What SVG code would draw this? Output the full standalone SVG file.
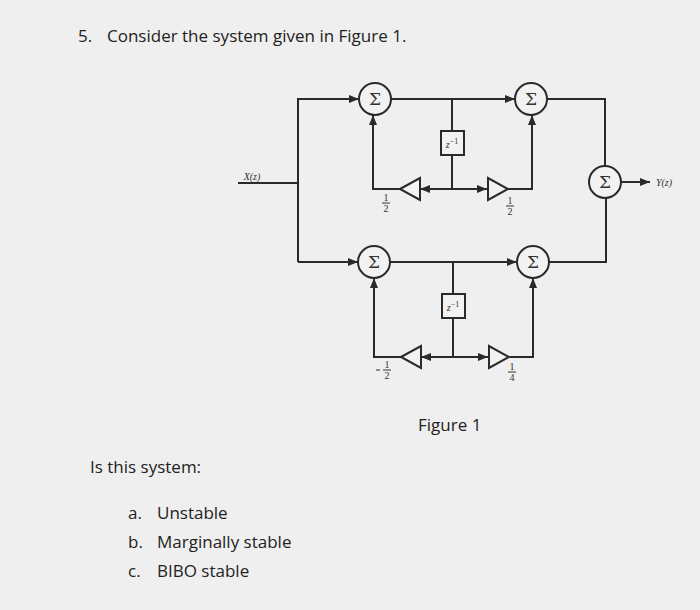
<svg xmlns="http://www.w3.org/2000/svg" width="700" height="610" viewBox="0 0 700 610">
<style>
.t{font-family:"Open Sans","Liberation Sans",sans-serif;font-size:17px;fill:#222}
.s{font-family:"DejaVu Serif",serif;font-size:17px;fill:#333;text-anchor:middle}
.f{font-family:"Liberation Serif",serif;font-size:10px;fill:#333;text-anchor:middle}
.l{fill:none;stroke:#2a2a2a;stroke-width:2}
.n{fill:#f2f2f2;stroke:#2a2a2a;stroke-width:2}
</style>
<defs><marker id="a" viewBox="0 0 10 10" refX="10" refY="5" markerWidth="5" markerHeight="5" orient="auto"><path d="M0,1L10,5L0,9z" fill="#2a2a2a"/></marker></defs>
<rect width="700" height="610" fill="#efefef"/>
<text class="t" x="78" y="42">5.</text><text class="t" x="107" y="42">Consider the system given in Figure 1.</text>
<g id="connectors">
<path class="l" d="M238,183H298"/>
<path class="l" d="M298,262V99H359" marker-end="url(#a)"/>
<path class="l" d="M298,262H358" marker-end="url(#a)"/>
<path class="l" d="M391,99H515" marker-end="url(#a)"/>
<path class="l" d="M452,99V131M452,155V189"/>
<path class="l" d="M452,189H420" marker-end="url(#a)"/>
<path class="l" d="M452,189H487" marker-end="url(#a)"/>
<path class="l" d="M400,189H373V115" marker-end="url(#a)"/>
<path class="l" d="M508,189H532V115" marker-end="url(#a)"/>
<path class="l" d="M547,99H605V166"/>
<path class="l" d="M621,182H650" marker-end="url(#a)"/>
<path class="l" d="M390,262H517" marker-end="url(#a)"/>
<path class="l" d="M453,262V294M453,318V357"/>
<path class="l" d="M453,357H421" marker-end="url(#a)"/>
<path class="l" d="M453,357H488" marker-end="url(#a)"/>
<path class="l" d="M401,357H374V278" marker-end="url(#a)"/>
<path class="l" d="M510,357H533V278" marker-end="url(#a)"/>
<path class="l" d="M549,262H606V198"/>
</g>
<text class="f" x="252" y="180" font-style="italic">X(z)</text>
<text class="f" x="664" y="186" font-style="italic">Y(z)</text>
<g id="sum1"><circle class="n" cx="375" cy="99" r="16"/><text class="s" x="375" y="105">Σ</text></g>
<g id="sum2"><circle class="n" cx="531" cy="99" r="16"/><text class="s" x="531" y="105">Σ</text></g>
<g id="sum3"><circle class="n" cx="374" cy="262" r="16"/><text class="s" x="374" y="268">Σ</text></g>
<g id="sum4"><circle class="n" cx="533" cy="262" r="16"/><text class="s" x="533" y="268">Σ</text></g>
<g id="sumOut"><circle class="n" cx="605" cy="182" r="16"/><text class="s" x="605" y="188">Σ</text></g>
<g id="delay1"><rect class="n" x="441" y="131" width="23" height="24"/><text class="f" x="452" y="148"><tspan font-style="italic">z</tspan><tspan font-size="8" dy="-4">−1</tspan></text></g>
<g id="delay2"><rect class="n" x="442" y="294" width="23" height="24"/><text class="f" x="453" y="311"><tspan font-style="italic">z</tspan><tspan font-size="8" dy="-4">−1</tspan></text></g>
<g id="gain1"><path class="n" d="M400,189L420,178V200z"/><text class="f" x="386" y="201">1</text><path d="M382,203h8" stroke="#333"/><text class="f" x="386" y="212">2</text></g>
<g id="gain2"><path class="n" d="M488,178V200L508,189z"/><text class="f" x="510" y="204">1</text><path d="M506,206h8" stroke="#333"/><text class="f" x="510" y="215">2</text></g>
<g id="gain3"><path class="n" d="M401,357L421,346V368z"/><text class="f" x="387" y="368">1</text><path d="M383,370h8M376,370h4" stroke="#333"/><text class="f" x="387" y="379">2</text></g>
<g id="gain4"><path class="n" d="M489,346V368L509,357z"/><text class="f" x="512" y="370">1</text><path d="M508,372h8" stroke="#333"/><text class="f" x="512" y="381">4</text></g>
<text class="t" x="418" y="431">Figure 1</text>
<text class="t" x="90" y="473">Is this system:</text>
<text class="t" x="128" y="519">a.</text><text class="t" x="157" y="519">Unstable</text>
<text class="t" x="128" y="548">b.</text><text class="t" x="157" y="548">Marginally stable</text>
<text class="t" x="128" y="577">c.</text><text class="t" x="157" y="577">BIBO stable</text>
</svg>
